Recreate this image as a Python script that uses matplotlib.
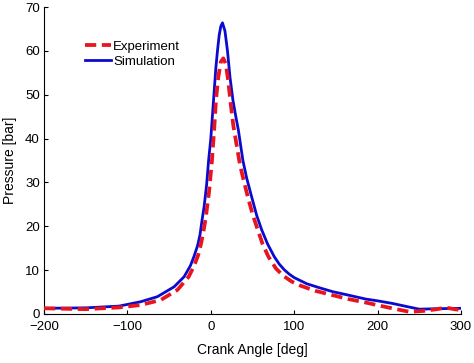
import numpy as np
import matplotlib.pyplot as plt

plt.rcParams['font.family'] = ['Liberation Sans', 'DejaVu Sans']
plt.rcParams['font.size'] = 9

# Simulation (blue solid)
sim_angle = [-200, -150, -110, -84, -64, -44, -32, -24.5, -20, -16, -13, -10.5, -8, -5, -2.6, 0, 3.3,
             6, 8, 10, 12, 14, 17, 20, 23, 26.5, 30, 33, 38.5, 43, 49, 55, 61, 68, 76,
             82, 88, 94, 100, 115, 130, 146, 165, 186, 200, 218, 235, 250, 270, 300]
sim_pres = [1.3, 1.4, 1.8, 2.8, 3.95, 6.2, 8.5, 11.0, 13.2, 15.5, 18, 21.4, 24.5, 29.5, 35.1, 40, 48.8,
            56, 60, 63.5, 65.6, 66.4, 64.5, 60, 54, 48.8, 45, 42, 35, 31, 26.7, 22.5, 19.2, 16, 13.1,
            11.4, 10.1, 9.1, 8.3, 6.9, 6, 5.1, 4.3, 3.4, 3.0, 2.4, 1.7, 1.1, 1.2, 1.3]

# Experiment (red dashed)
exp_angle = [-200, -150, -110, -84, -60, -40, -26.5, -20, -15, -12, -9, -6, -2, 1.4, 4, 6.2,
             9, 12, 15, 18, 21, 23.3, 27, 31, 35, 40, 44.4, 50, 56.3, 62, 69, 78,
             87, 97, 107, 125, 146, 165, 186, 205, 220, 238, 255, 270, 282, 292, 300]
exp_pres = [1.3, 1.1, 1.5, 2.05, 3.2, 5.5, 8.5, 11.0, 13.5, 15.8, 18.6, 22, 28, 35, 42, 48.8,
            54, 57.5, 58.3, 57, 53, 48.8, 43, 38.5, 34, 30, 26.7, 22.8, 19.2, 16, 13.1, 10.4,
            8.7, 7.4, 6.5, 5.3, 4.3, 3.4, 2.6, 1.8, 1.2, 0.5, 0.7, 1.07, 1.45, 1.1, 0.9]

fig = plt.figure(figsize=(4.74, 3.63), dpi=100)
ax = fig.add_axes([44 / 474, 49 / 363, 417 / 474, 307 / 363])

ax.plot(sim_angle, sim_pres, color='#0a0ad0', linewidth=2.0, label='Simulation', zorder=2)
ax.plot(exp_angle, exp_pres, color='#e8141e', linewidth=2.7, dashes=(3, 1.5),
        label='Experiment', zorder=3)

ax.set_xlim(-200, 300)
ax.set_ylim(0, 70)
ax.set_xticks(np.arange(-200, 301, 100))
ax.set_yticks(np.arange(0, 71, 10))
ax.tick_params(direction='in', length=3, width=0.8, colors='black', labelsize=9.5)
ax.tick_params(axis='x', pad=5)
ax.tick_params(axis='y', pad=3)
ax.spines['top'].set_visible(False)
ax.spines['right'].set_visible(False)
ax.set_xlabel('Crank Angle [deg]', fontsize=10, labelpad=7)
ax.set_ylabel('Pressure [bar]', fontsize=10, labelpad=6)

handles, labels = ax.get_legend_handles_labels()
ax.legend(handles[::-1], labels[::-1], loc='upper left', bbox_to_anchor=(0.098, 0.89),
          frameon=False, borderpad=0, borderaxespad=0, labelspacing=0.2,
          handlelength=2.0, handletextpad=0.15, fontsize=9.5)

fig.savefig('out.png', dpi=100)
